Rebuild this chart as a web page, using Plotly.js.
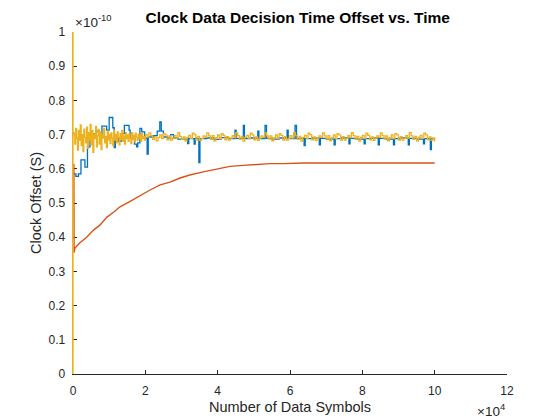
<!DOCTYPE html>
<html>
<head>
<meta charset="utf-8">
<script src="https://cdn.plot.ly/plotly-3.0.1.min.js"></script>
<style>html,body{margin:0;padding:0;background:#fff;}#chart{width:560px;height:420px;}</style>
</head>
<body>
<div id="chart"></div>
<script>
// Units: x in 1e4 data symbols, y in 1e-10 s
const xTickVals = [0, 2, 4, 6, 8, 10, 12];
const xTickText = ["0", "2", "4", "6", "8", "10", "12"];
const yTickVals = [0, 0.1, 0.2, 0.3, 0.4, 0.5, 0.6, 0.7, 0.8, 0.9, 1];
const yTickText = ["0", "0.1", "0.2", "0.3", "0.4", "0.5", "0.6", "0.7", "0.8", "0.9", "1"];

// Blue series (stairs), breakpoints
const blueX = [0.00, 0.08, 0.15, 0.22, 0.33, 0.40, 0.47, 0.55, 0.65, 0.73, 0.80, 0.93, 1.00, 1.10, 1.14, 1.17, 1.25, 1.33, 1.42, 1.55, 1.58, 1.70, 1.76, 1.79, 1.85, 1.90, 1.98, 2.05, 2.08, 2.22, 2.33, 2.40, 2.44, 2.50, 2.62, 2.70, 2.78, 2.90,
  3.17, 3.20, 3.35, 3.38, 3.48, 3.51, 3.70, 3.90, 4.10, 4.30, 4.48, 4.51, 4.71, 4.74, 4.90, 5.11, 5.14, 5.31, 5.35, 5.50, 5.70, 5.92, 5.95, 6.14, 6.18, 6.39, 6.42, 6.60, 6.81, 6.84, 7.00, 7.22, 7.25, 7.40, 7.63, 7.66, 7.85, 8.05, 8.08, 8.25, 8.44, 8.47, 8.65, 8.86, 8.89, 9.05, 9.27, 9.30, 9.50, 9.69, 9.72, 9.88, 9.91, 10.0];
const blueY = [0.585, 0.578, 0.585, 0.626, 0.605, 0.664, 0.693, 0.703, 0.710, 0.700, 0.725, 0.713, 0.750, 0.720, 0.662, 0.690, 0.680, 0.703, 0.727, 0.713, 0.690, 0.672, 0.664, 0.676, 0.718, 0.708, 0.690, 0.643, 0.693, 0.697, 0.710, 0.737, 0.710, 0.693, 0.690, 0.700, 0.690, 0.687,
  0.674, 0.688, 0.672, 0.689, 0.618, 0.688, 0.690, 0.686, 0.691, 0.688, 0.713, 0.689, 0.727, 0.688, 0.690, 0.710, 0.688, 0.727, 0.689, 0.687, 0.690, 0.713, 0.688, 0.727, 0.689, 0.668, 0.688, 0.690, 0.670, 0.689, 0.687, 0.670, 0.688, 0.690, 0.673, 0.689, 0.687, 0.673, 0.688, 0.690, 0.670, 0.689, 0.687, 0.670, 0.688, 0.690, 0.670, 0.689, 0.687, 0.673, 0.688, 0.656, 0.688, 0.688];

// Orange series
const orangeX = [0.025, 0.03, 0.055, 0.19, 0.38, 0.56, 0.75, 0.93, 1.12, 1.30, 1.58, 1.85, 2.13, 2.41, 2.68, 2.96, 3.23, 3.60, 3.97, 4.34, 4.71, 5.08, 5.45, 5.82, 6.37, 7.0, 8.0, 9.0, 10.0];
const orangeY = [0.615, 0.355, 0.368, 0.384, 0.400, 0.420, 0.436, 0.458, 0.473, 0.489, 0.505, 0.522, 0.538, 0.553, 0.561, 0.573, 0.582, 0.591, 0.600, 0.607, 0.610, 0.613, 0.615, 0.615, 0.617, 0.617, 0.618, 0.617, 0.617];

// Yellow series: initial jump, early samples (every 0.025), late samples (every 0.05)
const yellowStartY = [0, 1, 0.70];
const yellowEarlyStep = 0.025;
const yellowEarlyY = [
  0.705,0.672,0.718,0.690,0.655,0.712,0.684,0.728,0.668,0.700,0.650,0.716,0.692,0.676,0.722,0.660,0.706,0.683,0.730,0.670,
  0.712,0.648,0.702,0.688,0.724,0.664,0.697,0.715,0.672,0.708,0.656,0.700,0.690,0.718,0.676,0.694,0.662,0.710,0.684,0.700,
  0.674,0.705,0.690,0.668,0.712,0.684,0.700,0.676,0.708,0.692,0.670,0.703,0.686,0.712,0.680,0.696,0.672,0.706,0.688,0.699,
  0.680,0.702,0.690,0.674,0.706,0.686,0.698,0.679,0.704,0.692,0.683,0.701,0.688,0.697,0.680,0.705,0.689,0.694,0.684,0.700];
const yellowLateStart = 2.05;
const yellowLateStep = 0.05;
const yellowLateY = [
  0.693,0.705,0.697,0.686,0.694,0.682,0.691,0.699, 0.688,0.703,0.699,0.685,0.696,0.684,0.690,0.697,
  0.690,0.706,0.695,0.687,0.693,0.681,0.692,0.698, 0.689,0.704,0.700,0.684,0.695,0.683,0.689,0.696,
  0.692,0.705,0.696,0.686,0.697,0.682,0.691,0.699, 0.687,0.703,0.698,0.685,0.694,0.684,0.690,0.697,
  0.691,0.706,0.697,0.686,0.695,0.681,0.692,0.698, 0.689,0.704,0.699,0.685,0.693,0.683,0.690,0.696,
  0.692,0.705,0.696,0.687,0.696,0.682,0.691,0.699, 0.688,0.703,0.698,0.684,0.694,0.684,0.689,0.697,
  0.690,0.706,0.697,0.686,0.695,0.681,0.692,0.698, 0.689,0.704,0.700,0.685,0.693,0.683,0.690,0.696,
  0.692,0.705,0.696,0.687,0.697,0.682,0.691,0.699, 0.688,0.703,0.699,0.684,0.694,0.684,0.689,0.697,
  0.691,0.706,0.697,0.686,0.695,0.681,0.692,0.698, 0.689,0.704,0.698,0.685,0.693,0.683,0.690,0.696,
  0.692,0.705,0.697,0.687,0.696,0.682,0.691,0.699, 0.688,0.703,0.699,0.684,0.694,0.684,0.689,0.697,
  0.690,0.706,0.696,0.686,0.695,0.681,0.692,0.698, 0.689,0.704,0.699,0.685,0.693,0.683,0.690,0.680];

const yellowX = [0, 0, 0];
const yellowY = yellowStartY.slice();
yellowEarlyY.forEach((v, i) => { yellowX.push((i + 1) * yellowEarlyStep); yellowY.push(v); });
yellowLateY.forEach((v, i) => { yellowX.push(yellowLateStart + i * yellowLateStep); yellowY.push(v); });

const textColor = '#262626';
const yellow = '#EDB120';
const font = 'Liberation Sans, Arial, Helvetica, sans-serif';

const traces = [
  {x: blueX, y: blueY, type: 'scatter', mode: 'lines', line: {color: '#0072BD', width: 1.3, shape: 'hv'}, hoverinfo: 'skip', cliponaxis: false},
  {x: orangeX, y: orangeY, type: 'scatter', mode: 'lines', line: {color: '#D95319', width: 1.4, shape: 'linear'}, hoverinfo: 'skip', cliponaxis: false},
  {x: yellowX, y: yellowY, type: 'scatter', mode: 'lines', line: {color: yellow, width: 1.3, shape: 'hv'}, hoverinfo: 'skip', cliponaxis: false}
];

const layout = {
  width: 560, height: 420,
  paper_bgcolor: '#ffffff', plot_bgcolor: '#ffffff',
  margin: {l: 73, r: 53, t: 32, b: 46, pad: 0},
  showlegend: false,
  font: {family: font, color: textColor, size: 12},
  title: {text: '<b>Clock Data Decision Time Offset vs. Time</b>', font: {family: font, size: 15.5, color: '#000000'},
          x: 0.518, xref: 'paper', xanchor: 'center', y: 0.957, yref: 'container', yanchor: 'middle'},
  xaxis: {
    range: [0, 12], tickvals: xTickVals, ticktext: xTickText,
    ticks: 'inside', ticklen: 4, tickwidth: 1, tickcolor: textColor,
    showline: true, linecolor: textColor, linewidth: 1, mirror: false,
    showgrid: false, zeroline: false, layer: 'below traces',
    tickfont: {family: font, size: 12, color: textColor},
    ticklabelstandoff: 6,
    title: {text: 'Number of Data Symbols', font: {family: font, size: 14.5, color: textColor}, standoff: 4},
    automargin: false, fixedrange: true
  },
  yaxis: {
    range: [0, 1], tickvals: yTickVals, ticktext: yTickText,
    ticks: 'inside', ticklen: 4, tickwidth: 1, tickcolor: textColor,
    // the yellow series' vertical start segment at x = 0 covers the y axis line in the reference
    showline: true, linecolor: yellow, linewidth: 1.3, mirror: false,
    showgrid: false, zeroline: false, layer: 'below traces',
    tickfont: {family: font, size: 12, color: textColor},
    ticklabelstandoff: 4,
    title: {text: 'Clock Offset (S)', font: {family: font, size: 14.5, color: textColor}, standoff: 3},
    automargin: false, fixedrange: true
  },
  annotations: [
    {text: '×10<sup>-10</sup>', xref: 'paper', yref: 'paper', x: 0, y: 1, xanchor: 'left', yanchor: 'bottom', yshift: 0, showarrow: false,
     font: {family: font, size: 13.5, color: textColor}},
    {text: '×10<sup>4</sup>', xref: 'paper', yref: 'paper', x: 1, y: 0, xanchor: 'right', yanchor: 'top', yshift: -25, showarrow: false,
     font: {family: font, size: 13.5, color: textColor}}
  ]
};

Plotly.newPlot('chart', traces, layout, {displayModeBar: false, staticPlot: true});
</script>
</body>
</html>
